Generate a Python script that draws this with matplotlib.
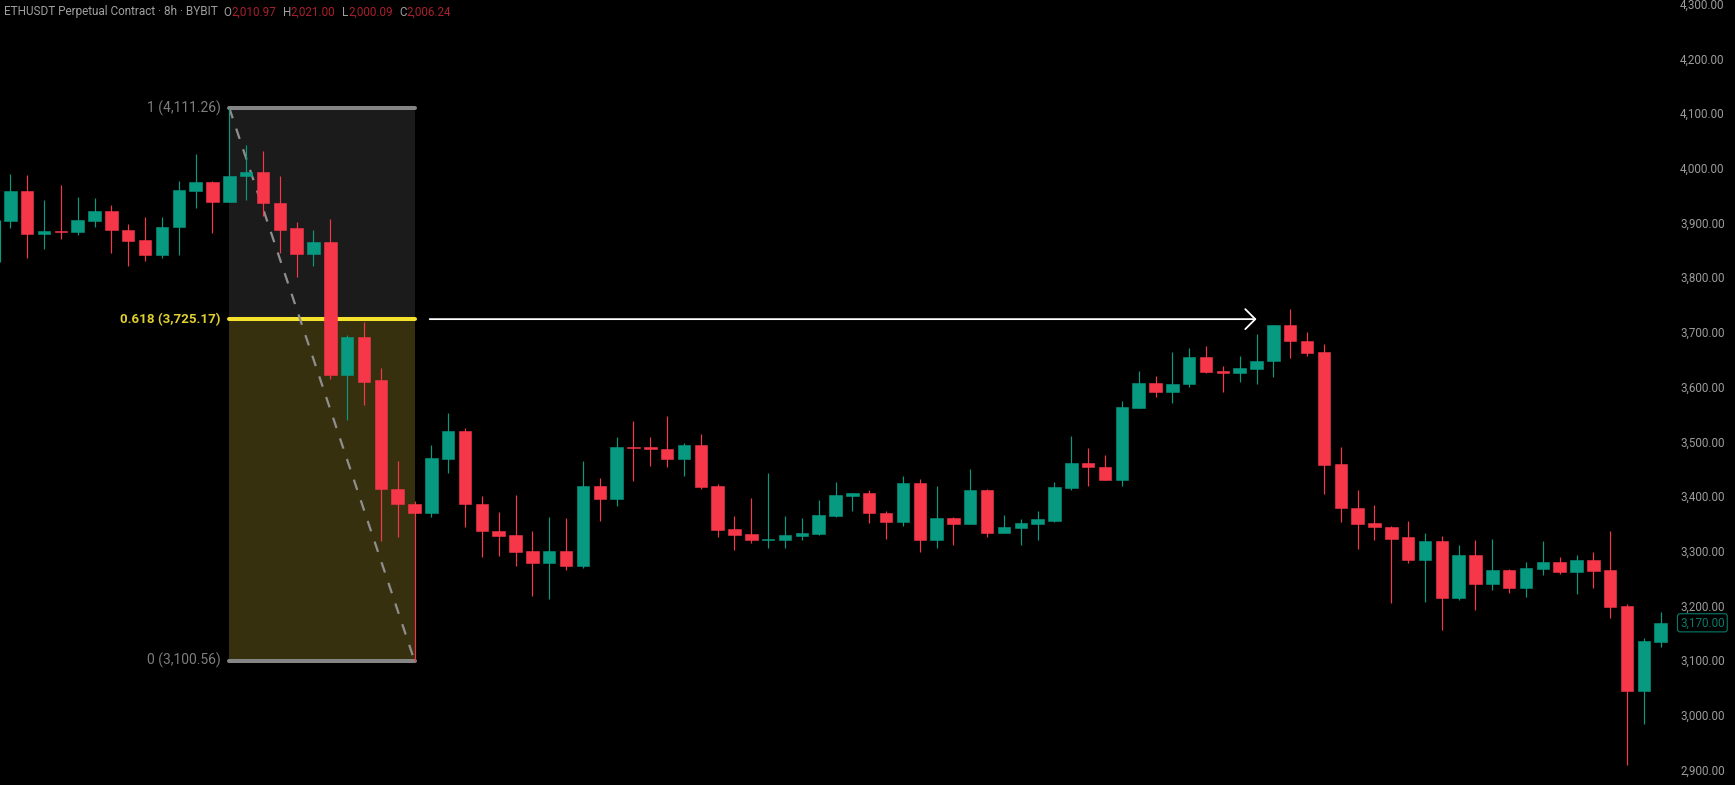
import numpy as np
import matplotlib
matplotlib.use("Agg")
import matplotlib.pyplot as plt
from matplotlib.transforms import ScaledTranslation

# ETHUSDT 8h candles
opens = [3905,3959,3881,3886,3884,3905,3923,3889,3870,3842,
         3893,3959,3975,3940,3986,3994,3938,3891,3844,3866,
         3623,3692,3613,3415,3388,3371,3469,3521,3388,3337,
         3330,3301,3279,3302,3274,3420,3397,3491,3492,3488,
         3469,3495,3420,3341,3333,3322,3322,3329,3333,3366,
         3401,3407,3371,3354,3426,3321,3361,3351,3412,3335,
         3343,3351,3357,3417,3462,3455,3431,3562,3609,3592,
         3606,3656,3630,3627,3634,3648,3714,3686,3665,3460,
         3379,3352,3346,3326,3285,3319,3216,3294,3241,3266,
         3233,3268,3282,3263,3284,3266,3200,3046,3135]
highs = [3990,3989,3943,3970,3948,3947,3933,3900,3912,3912,
         3977,4027,3978,4111.26,4044,4033,3986,3902,3889,3908,
         3696,3720,3635,3466,3393,3495,3554,3526,3401,3373,
         3403,3338,3363,3361,3466,3435,3510,3539,3510,3548,
         3499,3515,3424,3365,3398,3443,3366,3361,3395,3427,
         3407,3413,3375,3438,3433,3420,3363,3452,3415,3368,
         3359,3375,3427,3512,3489,3477,3576,3630,3621,3665,
         3672,3676,3639,3658,3698,3714,3744,3702,3679,3492,
         3413,3385,3347,3356,3334,3328,3312,3321,3323,3268,
         3282,3319,3291,3294,3299,3338,3205,3142,3189]
lows = [3892,3837,3853,3872,3879,3894,3846,3823,3831,3837,
        3842,3928,3883,3940,3943,3913,3846,3802,3823,3616,
        3540,3569,3320,3326,3100.56,3364,3443,3346,3291,3293,
        3274,3219,3213,3266,3270,3356,3383,3429,3457,3455,
        3439,3415,3326,3303,3315,3307,3307,3321,3331,3364,
        3375,3352,3324,3347,3299,3307,3313,3351,3326,3335,
        3312,3321,3354,3413,3420,3431,3420,3562,3582,3571,
        3601,3627,3592,3611,3607,3620,3655,3657,3405,3354,
        3305,3321,3207,3280,3208,3156,3212,3193,3230,3224,
        3217,3257,3260,3223,3233,3179,2910,2985,3125]
closes = [3959,3881,3886,3884,3906,3923,3888,3868,3842,3894,
          3961,3975,3940,3987,3994,3937,3889,3844,3866,3623,
          3692,3611,3414,3388,3371,3471,3521,3388,3337,3329,
          3299,3279,3302,3274,3420,3397,3492,3490,3487,3469,
          3495,3418,3340,3331,3322,3324,3331,3334,3368,3403,
          3407,3370,3354,3426,3321,3361,3351,3412,3335,3345,
          3352,3359,3418,3462,3454,3431,3564,3609,3592,3607,
          3656,3629,3627,3635,3649,3714,3685,3664,3459,3379,
          3351,3346,3324,3285,3319,3216,3294,3241,3266,3233,
          3270,3282,3263,3284,3265,3198,3046,3136,3170]

# wick of the candle cut off at the left edge
cut_wick = [3830, 3906]

price_ticks = [2900,3000,3100,3200,3300,3400,3500,3600,3700,3800,3900,4000,4100,4200,4300]

fib_levels = [1, 0.618, 0]
fib_prices = [4111.26, 3725.17, 3100.56]
fib_start = 13
fib_end = 24
arrow_start = 24.9
arrow_end = 74

title = "ETHUSDT Perpetual Contract · 8h · BYBIT"
ohlc_letters = ["O", "H", "L", "C"]
ohlc_values = ["2,010.97", "2,021.00", "2,000.09", "2,006.24"]

GREEN = "#089981"
RED = "#f63649"
FONT = "Roboto"

W, H = 1735, 785
plt.rcParams["font.family"] = FONT

fig = plt.figure(figsize=(W / 100, H / 100), dpi=100, facecolor="black")
ax = fig.add_axes([0, 0, 1672 / W, 1])
ax.set_facecolor("black")
ax.set_xlim(-0.615, 98.67)
ax.set_ylim(2873.5, 4308.6)
for s in ax.spines.values():
    s.set_visible(False)

# fib box
ax.fill_between([fib_start, fib_end], fib_prices[1], fib_prices[0], color="#1b1b1b", lw=0, zorder=1)
ax.fill_between([fib_start, fib_end], fib_prices[2], fib_prices[1], color="#37300f", lw=0, zorder=1)
fib_colors = ["#858585", "#f5e22e", "#858585"]
for lvl, price, c in zip(fib_levels, fib_prices, fib_colors):
    ax.plot([fib_start, fib_end], [price, price], color=c, lw=2.9, solid_capstyle="round", zorder=2)
    ax.annotate("{} ({:,.2f})".format(lvl, price), xy=(fib_start, price), xytext=(-6, 0),
                textcoords="offset points", ha="right", va="center",
                fontsize=9.6 if lvl == 0.618 else 10,
                color="#e0cf30" if lvl == 0.618 else "#7d7d7d",
                fontweight="bold" if lvl == 0.618 else "normal")

# diagonal trend line
ax.plot([fib_start, fib_end], [fib_prices[0], fib_prices[2]], color="#8e8e8e", lw=1.6,
        linestyle=(0, (4.9, 4.9)), zorder=2)

# arrow from the 0.618 level
ax.annotate("", xy=(arrow_end, fib_prices[1]), xytext=(arrow_start, fib_prices[1]), zorder=3,
            arrowprops=dict(arrowstyle="->,head_length=0.72,head_width=0.72", color="white", lw=1.3,
                            shrinkA=0, shrinkB=0))

# candles
x = np.arange(len(opens))
opens = np.array(opens, dtype=float)
closes = np.array(closes, dtype=float)
colors = [GREEN if c >= o else RED for o, c in zip(opens, closes)]
ax.vlines(x, lows, highs, colors=colors, lw=0.85, zorder=4)
ax.vlines(-0.59, cut_wick[0], cut_wick[1], colors=GREEN, lw=0.85, zorder=4)
bottoms = np.minimum(opens, closes)
heights = np.abs(closes - opens)
ax.bar(x, heights, bottom=bottoms, width=0.74, color=colors, edgecolor=colors, lw=0.4, zorder=5)

# price scale
ax.yaxis.tick_right()
ax.set_yticks(price_ticks)
ax.set_yticklabels(["{:,.2f}".format(p) for p in price_ticks])
ax.tick_params(axis="y", length=0, pad=5.8, labelsize=8.4, labelcolor="#9c9c9c")
ax.set_xticks([])
up_1px = ScaledTranslation(0, 1 / 100, fig.dpi_scale_trans)
for lab in ax.get_yticklabels():
    lab.set_transform(lab.get_transform() + up_1px)
fig.add_artist(plt.Line2D([1734.5 / W, 1734.5 / W], [0, 1], color="#222222", lw=0.7))

# last price tag
ax.annotate("{:,.2f}".format(closes[-1]), xy=(1, closes[-1]), xycoords=ax.get_yaxis_transform(),
            xytext=(5.8, 0), textcoords="offset points", ha="left", va="center",
            fontsize=8.4, color="#0b7a68", annotation_clip=False,
            bbox=dict(boxstyle="round,pad=0.22", fc="black", ec="#0b7a68", lw=0.8))

# header
fig.text(4 / W, 1 - 12 / H, title, color="#a0a0a0", fontsize=8.5, va="center", ha="left")
letter_x = [223.5, 282.6, 341.8, 399]
value_x = [231, 290.8, 348, 406]
for lx, vx, l, v in zip(letter_x, value_x, ohlc_letters, ohlc_values):
    fig.text(lx / W, 1 - 12 / H, l, color="#a0a0a0", fontsize=8.4, va="center", ha="left")
    fig.text(vx / W, 1 - 12 / H, v, color="#a8202c", fontsize=8.4, va="center", ha="left")

plt.savefig("out.png", dpi=100, facecolor="black")
